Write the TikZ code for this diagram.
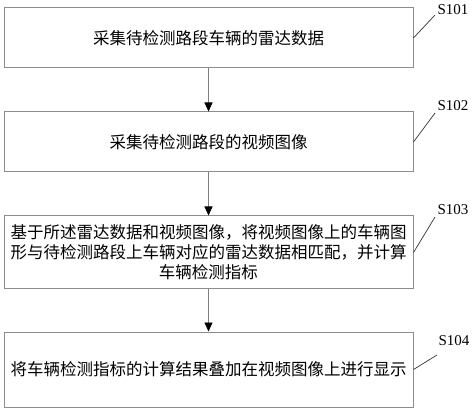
\documentclass[tikz,border=0pt]{standalone}
\usepackage{fontspec}
\setmainfont{Liberation Serif}
\newfontfamily\cjk{Noto Sans CJK SC}
\usetikzlibrary{arrows.meta}
\begin{document}
\begin{tikzpicture}[x=1pt,y=1pt,
  stepbox/.style={draw=black!45,line width=1pt,minimum width=409pt,inner sep=0pt,
    align=center,font=\cjk\fontsize{16.5}{20}\selectfont},
  flow/.style={draw=black!50,line width=0.9pt,-{Triangle[length=9pt,width=8pt,color=black]}},
  steplabel/.style={font=\fontsize{15}{18}\selectfont,inner sep=0pt},
  leader/.style={draw=black!80,line width=0.7pt}]
\useasboundingbox (0,0) rectangle (474,410);
\node[stepbox,minimum height=60pt] (b1) at (208.5,372) {采集待检测路段车辆的雷达数据};
\node[stepbox,minimum height=60pt] (b2) at (208.5,268) {采集待检测路段的视频图像};
\node[stepbox,minimum height=73pt] (b3) at (208.5,157.5) {基于所述雷达数据和视频图像，将视频图像上的车辆图\\形与待检测路段上车辆对应的雷达数据相匹配，并计算\\车辆检测指标};
\node[stepbox,minimum height=75pt] (b4) at (208.5,40.5) {将车辆检测指标的计算结果叠加在视频图像上进行显示};
\draw[flow] (b1) -- (b2);
\draw[flow] (b2) -- (b3);
\draw[flow] (b3) -- (b4);
\node[steplabel] (l1) at (453,400) {S101};
\node[steplabel] (l2) at (453,304) {S102};
\node[steplabel] (l3) at (453,200) {S103};
\node[steplabel] (l4) at (454,69) {S104};
\coordinate (e1) at (435,395);
\coordinate (e2) at (435,297);
\coordinate (e3) at (435,193);
\coordinate (e4) at (437,55);
\draw[leader] (b1.east) -- (e1);
\draw[leader] (b2.east) -- (e2);
\draw[leader] (b3.east) -- (e3);
\draw[leader] (b4.east) -- (e4);
\end{tikzpicture}
\end{document}
